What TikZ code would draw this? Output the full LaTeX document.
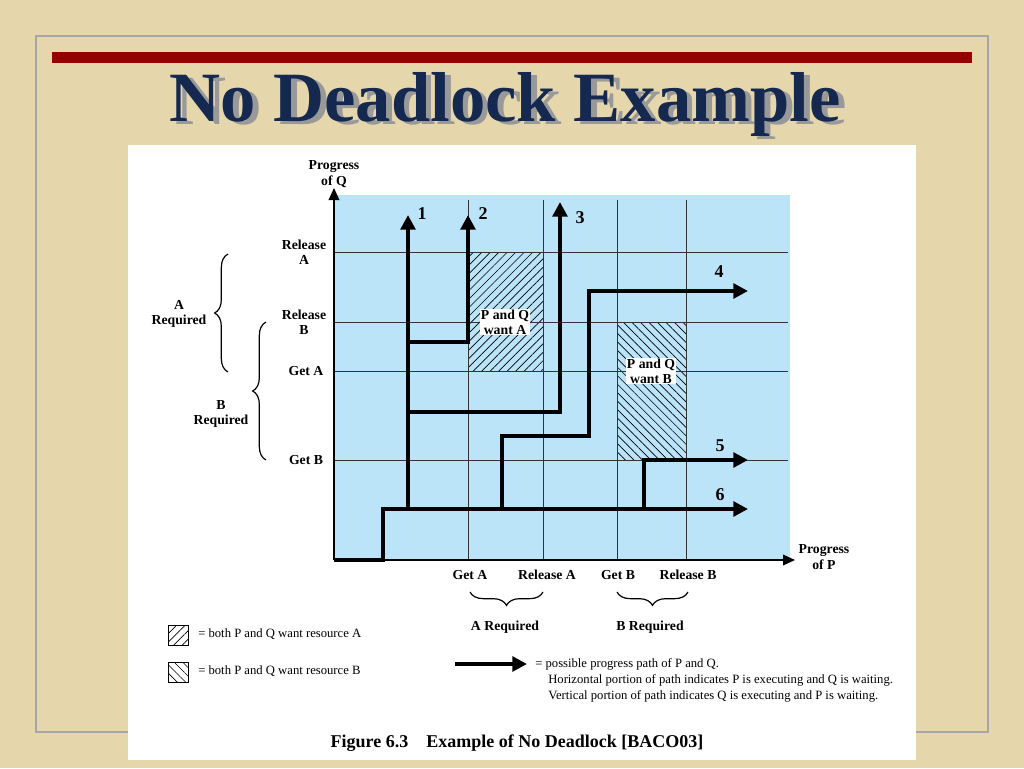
\documentclass[tikz,border=0pt]{standalone}
\usepackage{fontspec}
\setmainfont{Liberation Serif}
\usetikzlibrary{patterns.meta,decorations.pathreplacing,arrows.meta}
\definecolor{parch}{RGB}{229,214,172}
\definecolor{barred}{RGB}{150,0,0}
\definecolor{navy}{RGB}{20,40,80}
\definecolor{sky}{RGB}{187,228,248}
\tikzset{
 lbl/.style={font=\bfseries\fontsize{10.3}{11.5}\selectfont, align=center, inner sep=1pt},
 grid line/.style={draw=black!80, line width=0.6pt},
 path line/.style={line width=3pt, line join=miter},
 path arrow/.style={path line, -{Triangle[length=11pt,width=11pt]}},
 num/.style={font=\bfseries\fontsize{13.5}{14}\selectfont},
 brc/.style={decorate, decoration={brace, amplitude=10pt}, line width=0.9pt},
 leg/.style={font=\fontsize{9.5}{10}\selectfont, anchor=west, inner sep=0pt},
 hatchA/.style={pattern={Lines[angle=45,distance=4.5pt,line width=0.5pt]}},
 hatchB/.style={pattern={Lines[angle=-45,distance=4.5pt,line width=0.5pt]}}
}
\begin{document}
\begin{tikzpicture}[x=0.75pt,y=-0.75pt]
\useasboundingbox (0,0) rectangle (1024,768);
\fill[parch] (0,0) rectangle (1024,768);
\draw[gray!70, line width=0.8pt] (36,36) rectangle (988,732);
\fill[barred] (52,52) rectangle (972,63);
\node (title)[text=navy, font=\bfseries\fontsize{53}{55}\selectfont] at (505,105) {\rlap{\raisebox{-2.2pt}[0pt][0pt]{\hspace{4.4pt}\textcolor{black!40}{No Deadlock Example}}}No Deadlock Example};
\fill[white] (128,145) rectangle (916,760);
% plot
\fill[sky] (334,195) rectangle (790,560);
\fill[hatchA] (468,252) rectangle (543,371);
\fill[hatchB] (617,322) rectangle (686,460);
\foreach \x in {468,543,617,686} \draw[grid line] (\x,200) -- (\x,560);
\foreach \y in {252,322,371,460} \draw[grid line] (334,\y) -- (788,\y);
\node[lbl, fill=white, inner sep=0.5pt] (wa) at (505,322) {P and Q\\want A};
\node[lbl, fill=white, inner sep=0.5pt] (wb) at (651,371) {P and Q\\want B};
\coordinate (o) at (334,560);
\coordinate (ye) at (334,188);
\coordinate (xe) at (795,560);
\draw[line width=1pt, -{Triangle[length=9pt,width=8pt]}] (o) -- (ye);
\draw[line width=1pt, -{Triangle[length=9pt,width=8pt]}] (o) -- (xe);
\node[lbl] (pq) at (334,174) {Progress\\of Q};
\node[lbl] (pp) at (824,557) {Progress\\of P};
% paths
\draw[path arrow] (334,560) -- (383,560) -- (383,509) -- (748,509);
\draw[path arrow] (408,509) -- (408,215);
\draw[path arrow] (408,342) -- (468,342) -- (468,215);
\draw[path arrow] (408,412) -- (560,412) -- (560,202);
\draw[path arrow] (502,509) -- (502,436) -- (589,436) -- (589,291) -- (748,291);
\draw[path arrow] (644,509) -- (644,460) -- (748,460);
\node[num] at (422,214) {1};
\node[num] at (483,214) {2};
\node[num] at (580,218) {3};
\node[num] at (719,272) {4};
\node[num] at (720,446) {5};
\node[num] at (720,495) {6};
% left labels
\node[lbl] at (304,252) {Release\\A};
\node[lbl] at (304,322) {Release\\B};
\node[lbl] at (306,371) {Get A};
\node[lbl] at (306,460) {Get B};
\draw[brc] (228,372) -- (228,254);
\node[lbl] at (179,314) {A\\Required};
\draw[brc] (266,460) -- (266,322);
\node[lbl] at (221,414) {B\\Required};
% bottom labels
\node[lbl] at (470,575) {Get A};
\node[lbl] at (547,575) {Release A};
\node[lbl] at (618,575) {Get B};
\node[lbl] at (688,575) {Release B};
\draw[brc] (543,592) -- (470,592);
\draw[brc] (688,592) -- (617,592);
\node[lbl] at (505,627) {A Required};
\node[lbl] at (650,627) {B Required};
% legend
\fill[hatchA] (168,625) rectangle (188,645);
\draw (168,625) rectangle (188,645);
\fill[hatchB] (168,662) rectangle (188,682);
\draw (168,662) rectangle (188,682);
\node[leg] at (198,634) {= both P and Q want resource A};
\node[leg] at (198,671) {= both P and Q want resource B};
\draw[path line, -{Triangle[length=11pt,width=11pt]}] (455,664) -- (527,664);
\node[leg] at (535,664) {= possible progress path of P and Q.};
\node[leg] at (548,680) {Horizontal portion of path indicates P is executing and Q is waiting.};
\node[leg] at (548,696) {Vertical portion of path indicates Q is executing and P is waiting.};
\node[font=\bfseries\fontsize{13.5}{14}\selectfont] at (517,743) {Figure 6.3\quad Example of No Deadlock [BACO03]};
\end{tikzpicture}
\end{document}
